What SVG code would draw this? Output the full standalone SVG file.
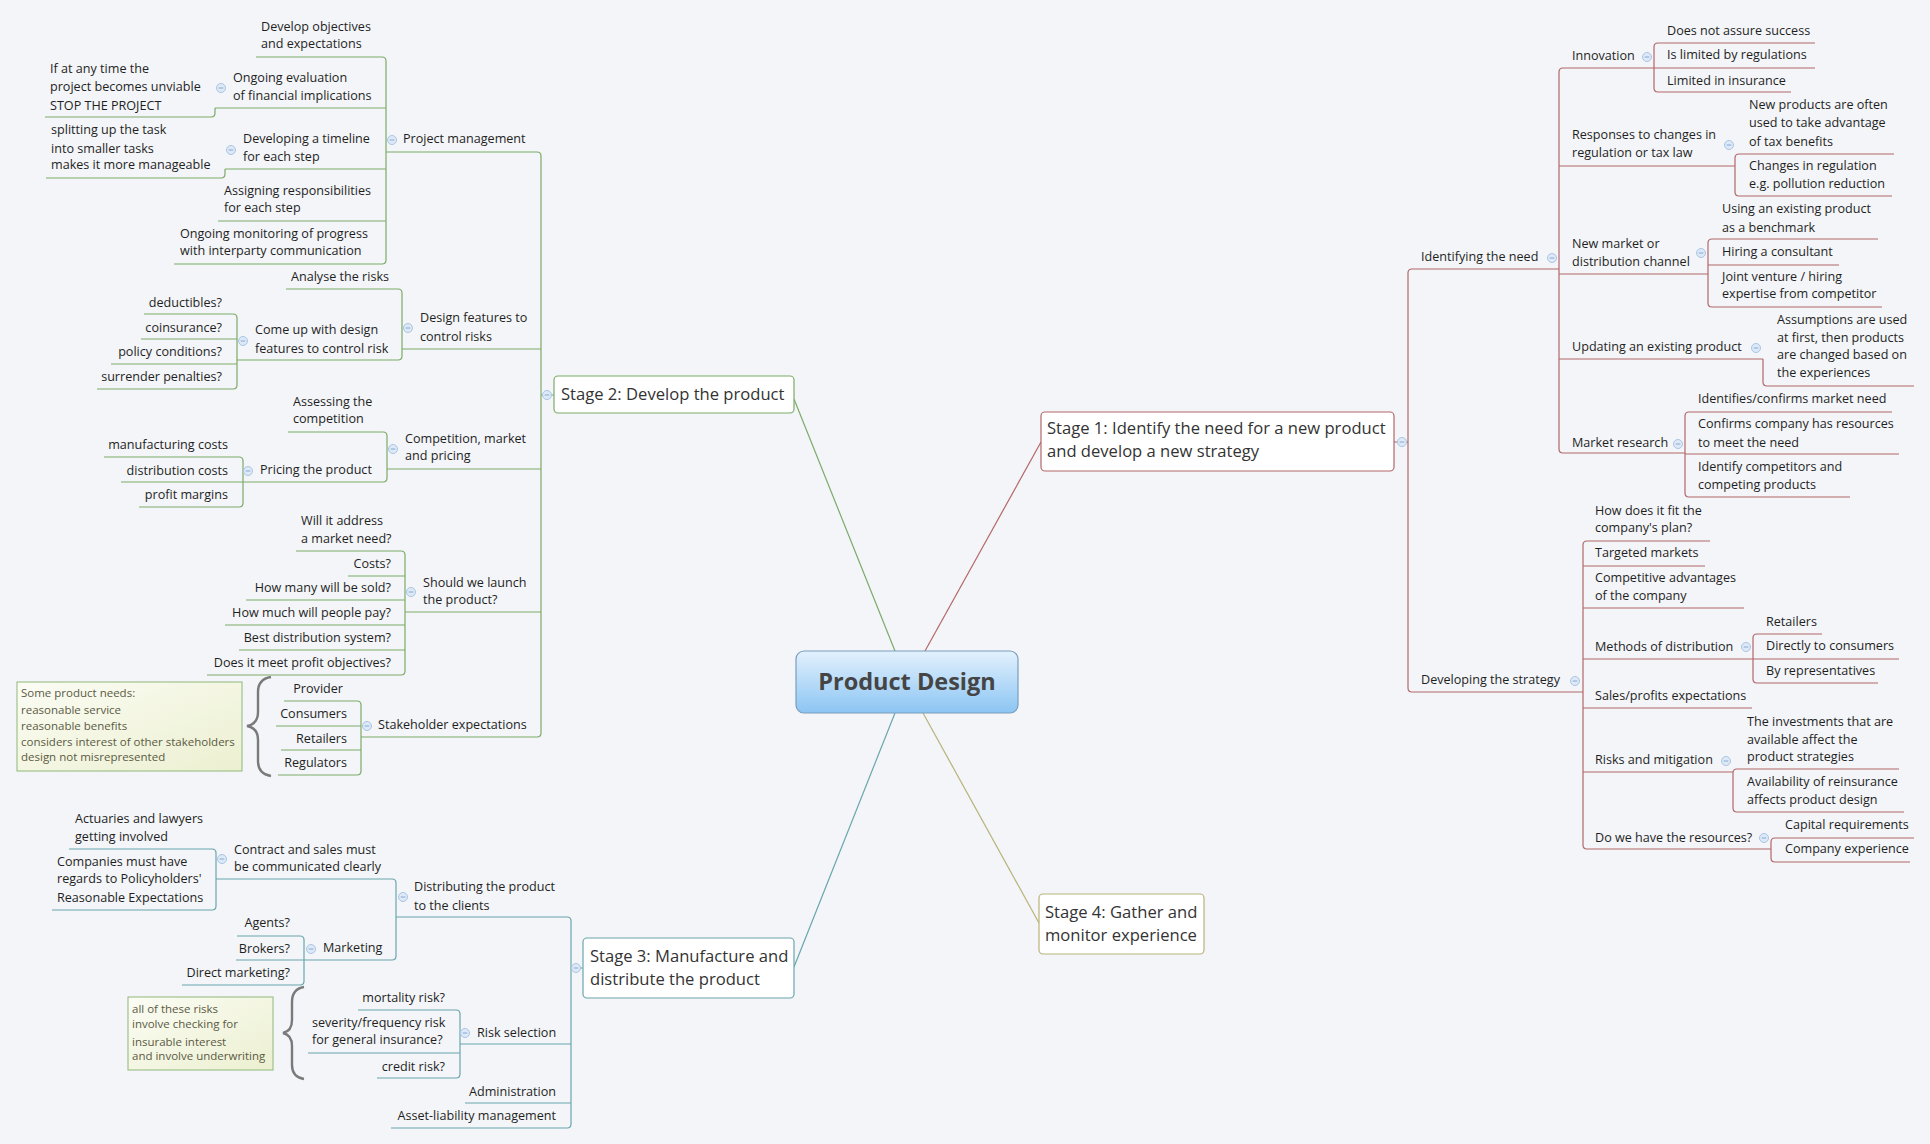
<svg xmlns="http://www.w3.org/2000/svg" width="1930" height="1144" viewBox="0 0 1930 1144">
<style>
text{font-family:"Open Sans","Noto Sans",sans-serif;font-size:12.6px;fill:#1f1f1f}
.e{text-anchor:end}
.st{font-size:16.6px;fill:#333}
.nt{font-size:11.5px;fill:#5a5a44}
.g{stroke:#7dab69;fill:none;stroke-width:1.2}
.tl{stroke:#6aa6ad;fill:none;stroke-width:1.2}
.rd{stroke:#b3686b;fill:none;stroke-width:1.2}
.ol{stroke:#b9b37a;fill:none;stroke-width:1.2}
.br{stroke:#7a7a7a;fill:none;stroke-width:2.4}
</style>
<defs>
<linearGradient id="cg" x1="0" y1="0" x2="0" y2="1"><stop offset="0" stop-color="#e3f1fd"/><stop offset="1" stop-color="#8cc5f3"/></linearGradient>
<linearGradient id="ng" x1="0" y1="0" x2="1" y2="1"><stop offset="0" stop-color="#fbfcf4"/><stop offset="1" stop-color="#ecf0d0"/></linearGradient>
<g id="ic"><circle r="4.5" fill="#dde9f7" stroke="#a9c4e4" stroke-width="1"/><line x1="-2.3" y1="0" x2="2.3" y2="0" stroke="#8aa9d0" stroke-width="1"/></g>
</defs>
<rect width="1930" height="1144" fill="#f3f5f8"/>

<g id="connectors">
<path class="g" d="M794 399 L895 651"/>
<path class="rd" d="M925 651 L1041 442"/>
<path class="tl" d="M895 713 L794 967"/>
<path class="ol" d="M923 713 L1039 923"/>
<path class="g" d="M386 152 H537 Q541 152 541 156 V733 Q541 737 537 737 H361 M402 349 H541 M387 469 H541 M405 612 H541 M541 395 H554"/>
<path class="g" d="M256 57 H382 Q386 57 386 61 V260 Q386 264 382 264 H174 M215 108 H386 M225 169 H386 M218 221 H386"/>
<path class="g" d="M45 117 H211 Q215 117 215 113 V108 M46 178 H221 Q225 178 225 174 V169"/>
<path class="g" d="M286 289 H398 Q402 289 402 293 V356 Q402 360 398 360 H237"/>
<path class="g" d="M144 314 H233 Q237 314 237 318 V385 Q237 389 233 389 H97 M141 339 H237 M111 364 H237"/>
<path class="g" d="M288 432 H383 Q387 432 387 436 V478 Q387 482 383 482 H243"/>
<path class="g" d="M104 457 H239 Q243 457 243 461 V503 Q243 507 239 507 H139 M121 482 H243"/>
<path class="g" d="M296 551 H401 Q405 551 405 555 V671 Q405 675 401 675 H207 M348 576 H405 M246 600 H405 M225 625 H405 M239 650 H405"/>
<path class="g" d="M284 701 H357 Q361 701 361 705 V771 Q361 775 357 775 H278 M276 726 H361 M281 750 H361"/>
<path class="tl" d="M396 917 H567 Q571 917 571 921 V1124 Q571 1128 567 1128 H391 M460 1044 H571 M465 1103 H571 M571 968 H583"/>
<path class="tl" d="M216 879 H392 Q396 879 396 883 V956 Q396 960 392 960 H304"/>
<path class="tl" d="M69 849 H212 Q216 849 216 853 V906 Q216 910 212 910 H52"/>
<path class="tl" d="M237 936 H300 Q304 936 304 940 V981 Q304 985 300 985 H182 M236 960 H304"/>
<path class="tl" d="M358 1010 H456 Q460 1010 460 1014 V1074 Q460 1078 456 1078 H377 M308 1053 H460"/>
<path class="rd" d="M1559 269 H1412 Q1408 269 1408 273 V688 Q1408 692 1412 692 H1583 M1394 442 H1408"/>
<path class="rd" d="M1654 68 H1563 Q1559 68 1559 72 V449 Q1559 453 1563 453 H1685 M1559 166 H1735 M1559 274 H1708 M1559 359 H1763"/>
<path class="rd" d="M1815 43 H1658 Q1654 43 1654 47 V88 Q1654 92 1658 92 H1791 M1654 68 H1815"/>
<path class="rd" d="M1894 154 H1739 Q1735 154 1735 158 V192 Q1735 196 1739 196 H1892"/>
<path class="rd" d="M1878 239 H1712 Q1708 239 1708 243 V303 Q1708 307 1712 307 H1882 M1708 265 H1839"/>
<path class="rd" d="M1763 359 V382 Q1763 386 1767 386 H1914"/>
<path class="rd" d="M1892 412 H1689 Q1685 412 1685 416 V493 Q1685 497 1689 497 H1850 M1685 454 H1899"/>
<path class="rd" d="M1710 541 H1587 Q1583 541 1583 545 V845 Q1583 849 1587 849 H1771 M1583 566 H1705 M1583 608 H1744 M1583 659 H1753 M1583 708 H1752 M1583 772 H1733"/>
<path class="rd" d="M1822 634 H1757 Q1753 634 1753 638 V679 Q1753 683 1757 683 H1878 M1753 659 H1899"/>
<path class="rd" d="M1899 769 H1737 Q1733 769 1733 773 V808 Q1733 812 1737 812 H1904"/>
<path class="rd" d="M1914 838 H1775 Q1771 838 1771 842 V858 Q1771 862 1775 862 H1910"/>
<path class="br" d="M271 677 Q258 679 258 692 V712 Q258 724 247 726 Q258 728 258 740 V761 Q258 774 271 776"/>
<path class="br" d="M304 987 Q292 989 292 1002 V1020 Q292 1031 283 1033 Q292 1035 292 1046 V1065 Q292 1077 304 1079"/>
</g>

<g id="icons">
<use href="#ic" x="221" y="88"/><use href="#ic" x="392" y="140"/><use href="#ic" x="231" y="150"/>
<use href="#ic" x="408" y="328"/><use href="#ic" x="243" y="341"/><use href="#ic" x="547" y="395"/>
<use href="#ic" x="393" y="449"/><use href="#ic" x="248" y="471"/><use href="#ic" x="411" y="592"/>
<use href="#ic" x="367" y="726"/><use href="#ic" x="222" y="859"/><use href="#ic" x="403" y="897"/>
<use href="#ic" x="311" y="949"/><use href="#ic" x="576" y="968"/><use href="#ic" x="465" y="1033"/>
<use href="#ic" x="1647" y="57"/><use href="#ic" x="1729" y="145"/><use href="#ic" x="1701" y="253"/>
<use href="#ic" x="1552" y="258"/><use href="#ic" x="1756" y="348"/><use href="#ic" x="1678" y="444"/>
<use href="#ic" x="1402" y="442"/><use href="#ic" x="1746" y="647"/><use href="#ic" x="1575" y="681"/>
<use href="#ic" x="1726" y="761"/><use href="#ic" x="1764" y="838"/>
</g>

<g id="center">
<rect x="796" y="651" width="222" height="62" rx="8" fill="url(#cg)" stroke="#7b9dbd" stroke-width="1.2"/>
<text x="907" y="690" text-anchor="middle" style="font-size:23.5px;font-weight:bold;fill:#454545">Product Design</text>
</g>

<g id="stage2">
<rect x="554" y="376" width="240" height="37" rx="4" fill="#fff" stroke="#7dab69" stroke-width="1.2"/>
<text class="st" x="561" y="400">Stage 2: Develop the product</text>
</g>
<g id="stage1">
<rect x="1041" y="412" width="353" height="59" rx="4" fill="#fff" stroke="#b3686b" stroke-width="1.2"/>
<text class="st" x="1047" y="434">Stage 1: Identify the need for a new product</text>
<text class="st" x="1047" y="457">and develop a new strategy</text>
</g>
<g id="stage3">
<rect x="583" y="938" width="211" height="60" rx="4" fill="#fff" stroke="#6aa6ad" stroke-width="1.2"/>
<text class="st" x="590" y="962">Stage 3: Manufacture and</text>
<text class="st" x="590" y="985">distribute the product</text>
</g>
<g id="stage4">
<rect x="1039" y="894" width="165" height="60" rx="4" fill="#fff" stroke="#b9b37a" stroke-width="1.2"/>
<text class="st" x="1045" y="918">Stage 4: Gather and</text>
<text class="st" x="1045" y="941">monitor experience</text>
</g>

<g id="stage2-topics">
<g id="n-pm">
<text x="403" y="143">Project management</text>
<text x="261" y="31">Develop objectives</text><text x="261" y="48">and expectations</text>
<text x="233" y="82">Ongoing evaluation</text><text x="233" y="100">of financial implications</text>
<text x="50" y="73">If at any time the</text><text x="50" y="91">project becomes unviable</text><text x="50" y="110">STOP THE PROJECT</text>
<text x="243" y="143">Developing a timeline</text><text x="243" y="161">for each step</text>
<text x="51" y="134">splitting up the task</text><text x="51" y="153">into smaller tasks</text><text x="51" y="169">makes it more manageable</text>
<text x="224" y="195">Assigning responsibilities</text><text x="224" y="212">for each step</text>
<text x="180" y="238">Ongoing monitoring of progress</text><text x="180" y="255">with interparty communication</text>
</g>
<g id="n-df">
<text x="420" y="322">Design features to</text><text x="420" y="341">control risks</text>
<text x="291" y="281">Analyse the risks</text>
<text x="255" y="334">Come up with design</text><text x="255" y="353">features to control risk</text>
<text class="e" x="222" y="307">deductibles?</text>
<text class="e" x="222" y="332">coinsurance?</text>
<text class="e" x="222" y="356">policy conditions?</text>
<text class="e" x="222" y="381">surrender penalties?</text>
</g>
<g id="n-cmp">
<text x="405" y="443">Competition, market</text><text x="405" y="460">and pricing</text>
<text x="293" y="406">Assessing the</text><text x="293" y="423">competition</text>
<text x="260" y="474">Pricing the product</text>
<text class="e" x="228" y="449">manufacturing costs</text>
<text class="e" x="228" y="475">distribution costs</text>
<text class="e" x="228" y="499">profit margins</text>
</g>
<g id="n-launch">
<text x="423" y="587">Should we launch</text><text x="423" y="604">the product?</text>
<text x="301" y="525">Will it address</text><text x="301" y="543">a market need?</text>
<text class="e" x="391" y="568">Costs?</text>
<text class="e" x="391" y="592">How many will be sold?</text>
<text class="e" x="391" y="617">How much will people pay?</text>
<text class="e" x="391" y="642">Best distribution system?</text>
<text class="e" x="391" y="667">Does it meet profit objectives?</text>
</g>
<g id="n-stake">
<text x="378" y="729">Stakeholder expectations</text>
<text class="e" x="343" y="693">Provider</text>
<text class="e" x="347" y="718">Consumers</text>
<text class="e" x="347" y="743">Retailers</text>
<text class="e" x="347" y="767">Regulators</text>
</g>
<g id="note1">
<rect x="17" y="682" width="225" height="89" fill="url(#ng)" stroke="#8fb87b" stroke-width="1"/>
<text class="nt" x="21" y="697">Some product needs:</text>
<text class="nt" x="21" y="714">reasonable service</text>
<text class="nt" x="21" y="730">reasonable benefits</text>
<text class="nt" x="21" y="746">considers interest of other stakeholders</text>
<text class="nt" x="21" y="761">design not misrepresented</text>
</g>
</g>

<g id="stage3-topics">
<g id="n-dist">
<text x="414" y="891">Distributing the product</text><text x="414" y="910">to the clients</text>
<text x="234" y="854">Contract and sales must</text><text x="234" y="871">be communicated clearly</text>
<text x="75" y="823">Actuaries and lawyers</text><text x="75" y="841">getting involved</text>
<text x="57" y="866">Companies must have</text><text x="57" y="883">regards to Policyholders'</text><text x="57" y="902">Reasonable Expectations</text>
<text x="323" y="952">Marketing</text>
<text class="e" x="290" y="927">Agents?</text>
<text class="e" x="290" y="953">Brokers?</text>
<text class="e" x="290" y="977">Direct marketing?</text>
</g>
<g id="n-risk">
<text x="477" y="1037">Risk selection</text>
<text class="e" x="445" y="1002">mortality risk?</text>
<text x="312" y="1027">severity/frequency risk</text><text x="312" y="1044">for general insurance?</text>
<text class="e" x="445" y="1071">credit risk?</text>
</g>
<text class="e" x="556" y="1096">Administration</text>
<text class="e" x="556" y="1120">Asset-liability management</text>
<g id="note2">
<rect x="128" y="997" width="145" height="73" fill="url(#ng)" stroke="#8fb87b" stroke-width="1"/>
<text class="nt" x="132" y="1013">all of these risks</text>
<text class="nt" x="132" y="1028">involve checking for</text>
<text class="nt" x="132" y="1046">insurable interest</text>
<text class="nt" x="132" y="1060">and involve underwriting</text>
</g>
</g>

<g id="stage1-topics">
<g id="n-need">
<text x="1421" y="261">Identifying the need</text>
<text x="1572" y="60">Innovation</text>
<text x="1667" y="35">Does not assure success</text>
<text x="1667" y="59">Is limited by regulations</text>
<text x="1667" y="85">Limited in insurance</text>
<text x="1572" y="139">Responses to changes in</text><text x="1572" y="157">regulation or tax law</text>
<text x="1749" y="109">New products are often</text><text x="1749" y="127">used to take advantage</text><text x="1749" y="146">of tax benefits</text>
<text x="1749" y="170">Changes in regulation</text><text x="1749" y="188">e.g. pollution reduction</text>
<text x="1572" y="248">New market or</text><text x="1572" y="266">distribution channel</text>
<text x="1722" y="213">Using an existing product</text><text x="1722" y="232">as a benchmark</text>
<text x="1722" y="256">Hiring a consultant</text>
<text x="1722" y="281">Joint venture / hiring</text><text x="1722" y="298">expertise from competitor</text>
<text x="1572" y="351">Updating an existing product</text>
<text x="1777" y="324">Assumptions are used</text><text x="1777" y="342">at first, then products</text><text x="1777" y="359">are changed based on</text><text x="1777" y="377">the experiences</text>
<text x="1572" y="447">Market research</text>
<text x="1698" y="403">Identifies/confirms market need</text>
<text x="1698" y="428">Confirms company has resources</text><text x="1698" y="447">to meet the need</text>
<text x="1698" y="471">Identify competitors and</text><text x="1698" y="489">competing products</text>
</g>
<g id="n-strategy">
<text x="1421" y="684">Developing the strategy</text>
<text x="1595" y="515">How does it fit the</text><text x="1595" y="532">company's plan?</text>
<text x="1595" y="557">Targeted markets</text>
<text x="1595" y="582">Competitive advantages</text><text x="1595" y="600">of the company</text>
<text x="1595" y="651">Methods of distribution</text>
<text x="1766" y="626">Retailers</text>
<text x="1766" y="650">Directly to consumers</text>
<text x="1766" y="675">By representatives</text>
<text x="1595" y="700">Sales/profits expectations</text>
<text x="1595" y="764">Risks and mitigation</text>
<text x="1747" y="726">The investments that are</text><text x="1747" y="744">available affect the</text><text x="1747" y="761">product strategies</text>
<text x="1747" y="786">Availability of reinsurance</text><text x="1747" y="804">affects product design</text>
<text x="1595" y="842">Do we have the resources?</text>
<text x="1785" y="829">Capital requirements</text>
<text x="1785" y="853">Company experience</text>
</g>
</g>
</svg>
